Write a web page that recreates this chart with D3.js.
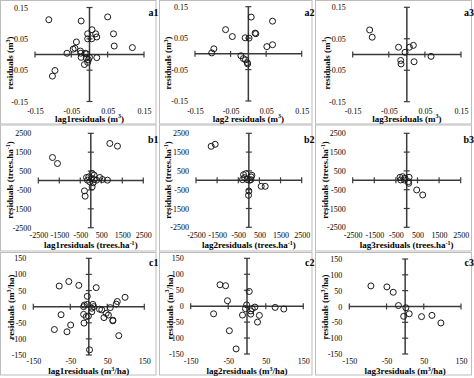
<!DOCTYPE html>
<html>
<head>
<meta charset="utf-8">
<script src="https://cdnjs.cloudflare.com/ajax/libs/d3/7.8.5/d3.min.js"></script>
<style>
  html, body { margin: 0; padding: 0; background: #fff; }
  svg { display: block; font-family: "Liberation Serif", "Times New Roman", serif; }
</style>
</head>
<body>
<svg id="chart" width="474" height="378"></svg>
<script>
// ---------------- DATA ----------------
const panelIds = ["a1", "a2", "a3", "b1", "b2", "b3", "c1", "c2", "c3"];

// row a : volume residuals (m3)
const a1X = [-0.112, -0.023, 0.050, 0.007, -0.005, 0.017, -0.005, 0.006, 0.020, 0.066, 0.068, 0.118, -0.036, -0.045, -0.040, -0.062, -0.025, -0.024, -0.012, -0.008, -0.023, -0.009, -0.003, -0.014, -0.005, 0.020, -0.095, -0.102, 0.000];
const a1Y = [0.111, 0.107, 0.120, 0.079, 0.066, 0.066, 0.050, 0.050, 0.056, 0.066, 0.027, 0.022, 0.040, 0.017, 0.020, 0.004, 0.011, 0.004, 0.004, 0.002, -0.009, -0.011, -0.017, -0.032, -0.025, -0.010, -0.051, -0.069, -0.009];
const a2X = [0.008, 0.068, -0.064, -0.045, -0.009, 0.002, 0.019, 0.021, 0.052, 0.068, -0.097, -0.103, -0.021, -0.014, -0.008, -0.003, -0.002];
const a2Y = [0.117, 0.104, 0.077, 0.055, 0.051, 0.050, 0.066, 0.064, 0.023, 0.029, 0.016, 0.003, -0.006, -0.015, -0.019, -0.028, -0.032];
const a3X = [-0.103, -0.096, -0.023, 0.007, 0.018, -0.005, 0.067, -0.017, -0.016, 0.020];
const a3Y = [0.078, 0.055, 0.023, 0.023, 0.029, 0.007, -0.006, -0.019, -0.030, -0.023];

// row b : density residuals (trees/ha)
const b1X = [-1825, -1587, 905, 1270, -302, -270, -206, -95, 63, 159, 32, -159, -48, 111, 63, 429, 556, 794, 159, 270];
const b1Y = [1219, 901, 1961, 1820, -548, -830, 159, 194, 371, 283, 106, 18, -71, -124, -336, 159, 53, 18, 53, 18];
const b2X = [-1782, -1593, 584, 773, 0, -16, -252, -142, -205, -300, 110, 142, -79, 32, 95];
const b2Y = [1809, 1915, -319, -319, -567, -798, 301, 355, 142, 35, 177, 266, 35, 0, 35];
const b3X = [-309, -185, -278, -77, 108, 77, 93, -108, 463, 741];
const b3Y = [160, 195, 18, 106, 160, -71, -160, 18, -514, -780];

// row c : volume residuals (m3/ha)
const c1X = [-80, -54, -27, 20, -4, 98, 77, 74, -75, -49, -59, -93, -14, -12, -4, 11, 8, 13, -14, -7, -1, -13, 29, 35, 47, 41, 53, 65, 65, 58, 81, 2, 8];
const c1Y = [64, 78, 66, 59, 32, 29, 16, 8, -25, -57, -78, -71, 0, 5, 7, 7, -5, 0, -24, -31, -29, -51, -8, -10, -21, -34, -26, -44, -42, -3, -90, -134, -16];
const c2X = [-72, -57, 6, -52, -89, -47, -29, -1, -4, -12, 10, 10, 21, 14, 33, 28, 75, 98];
const c2Y = [67, 64, 46, 17, -24, -77, -134, 4, -8, -28, -15, -25, -3, -8, -29, -50, -4, -9];
const c3X = [-92, -49, -32, -18, 2, -4, 11, 44, 72, 96];
const c3Y = [65, 62, 45, 3, -4, -31, -23, -32, -28, -52];

// ticks
const ticksA = [-0.15, -0.05, 0.05, 0.15];
const ticksB = [-2500, -1500, -500, 500, 1500, 2500];
const ticksCX = [-150, -50, 50, 150];
const ticksCY = [-150, -100, -50, 0, 50, 100, 150];
const domainA = [-0.15, 0.15];
const domainB = [-2500, 2500];
const domainC = [-150, 150];

// titles ("^{..}" = superscript)
const xTitles = [
  "lag1residuals (m^{3})", "lag2 residuals (m^{3})", "lag3residuals (m^{3})",
  "lag1residuals (trees.ha^{-1})", "lag2residuals (trees.ha^{-1})", "lag3residuals (trees.ha^{-1})",
  "lag1residuals (m^{3}/ha)", "lag2residuals (m^{3}/ha)", "lag3residuals (m^{3}/ha)"
];
const yTitles = ["residuals (m^{3})", "residuals (trees.ha^{-1})", "residuals (m^{3}/ha)"];

const seriesX = [a1X, a2X, a3X, b1X, b2X, b3X, c1X, c2X, c3X];
const seriesY = [a1Y, a2Y, a3Y, b1Y, b2Y, b3Y, c1Y, c2Y, c3Y];
const rowDomains = [domainA, domainB, domainC];
const rowXTicks = [ticksA, ticksB, ticksCX];
const rowYTicks = [ticksA, ticksB, ticksCY];

// ---------------- LAYOUT ----------------
const colL = [1, 160, 316];
const colR = [156.5, 312.5, 472];
const rowT = [1, 125.5, 253];
const rowB = [124.5, 251.5, 375.5];
// plot rectangles [x0, x1, y0, y1]
const plotRects = [
  [35, 144, 7.5, 101.5], [195, 301.7, 6.7, 101], [352.7, 461, 7.3, 101.7],
  [38.3, 143.3, 133.3, 227.7], [196, 301.7, 133.3, 227.3], [352.7, 460.7, 133.3, 227.3],
  [33.3, 144.3, 258.3, 355], [190.7, 303.3, 258.3, 354], [349.3, 461, 259, 354]
];
const xLabelBase = [116, 240, 366];
const xTitleBase = [121.5, 248, 374];
const yTitleCenter = [63, 180, 307];
const yTitleX = [[13, 171, 329.5], [13, 171, 328], [14, 172.5, 328]];
const labelBase = [15.7, 142.7, 265.7];

const svg = d3.select("#chart");
const axisColor = "#3a3a3a";

function addRich(sel, str, supSize) {
  const parts = str.split(/(\^\{[^}]*\})/).filter(s => s.length);
  let raised = false;
  parts.forEach(p => {
    if (p.startsWith("^{")) {
      sel.append("tspan").attr("dy", -3.5).attr("font-size", supSize).text(p.slice(2, -1));
      raised = true;
    } else {
      const t = sel.append("tspan").text(p);
      if (raised) { t.attr("dy", 3.5); raised = false; }
    }
  });
}

panelIds.forEach((id, i) => {
  const r = Math.floor(i / 3), c = i % 3;
  const [px0, px1, py0, py1] = plotRects[i];
  const g = svg.append("g");

  // panel frame
  g.append("rect")
    .attr("x", colL[c] - 0.5).attr("y", rowT[r] - 0.5)
    .attr("width", colR[c] - colL[c]).attr("height", rowB[r] - rowT[r])
    .attr("fill", "none").attr("stroke", "#bdbdbd").attr("stroke-width", 1);

  const x = d3.scaleLinear().domain(rowDomains[r]).range([px0, px1]);
  const y = d3.scaleLinear().domain(rowDomains[r]).range([py1, py0]);
  const x0 = x(0), y0 = y(0);

  // tick labels via d3 axes (placed at plot edges, no lines)
  const fmt = d => String(d);
  const xa = g.append("g").attr("transform", `translate(0,${xLabelBase[r] - 8})`)
    .call(d3.axisBottom(x).tickValues(rowXTicks[r]).tickSize(0).tickPadding(0).tickFormat(fmt));
  const ya = g.append("g").attr("transform", `translate(${px0 - 7},0)`)
    .call(d3.axisLeft(y).tickValues(rowYTicks[r]).tickSize(0).tickPadding(0).tickFormat(fmt));
  [xa, ya].forEach(a => {
    a.select(".domain").remove();
    a.selectAll("text").attr("fill", "#000").attr("font-size", 8)
      .attr("font-family", '"Liberation Serif", "Times New Roman", serif');
  });
  xa.selectAll("text").attr("dy", "0.71em");

  // cross axes
  g.append("line").attr("x1", px0).attr("x2", px1).attr("y1", y0).attr("y2", y0)
    .attr("stroke", axisColor).attr("stroke-width", 1.5);
  g.append("line").attr("x1", x0).attr("x2", x0).attr("y1", py0).attr("y2", py1)
    .attr("stroke", axisColor).attr("stroke-width", 1.5);
  g.selectAll(".xt").data(rowXTicks[r]).join("line")
    .attr("x1", d => x(d)).attr("x2", d => x(d)).attr("y1", y0 - 3).attr("y2", y0 + 3)
    .attr("stroke", axisColor).attr("stroke-width", 1.2);
  g.selectAll(".yt").data(rowYTicks[r].filter(v => v !== 0)).join("line")
    .attr("x1", x0 - 3).attr("x2", x0 + 3).attr("y1", d => y(d)).attr("y2", d => y(d))
    .attr("stroke", axisColor).attr("stroke-width", 1.2);

  // points
  const pts = seriesX[i].map((v, k) => [v, seriesY[i][k]]);
  g.selectAll("circle").data(pts).join("circle")
    .attr("cx", d => x(d[0])).attr("cy", d => y(d[1])).attr("r", 3)
    .attr("fill", "none").attr("stroke", "#1a1a1a").attr("stroke-width", 1);

  // x title
  const xt = g.append("text").attr("x", x0).attr("y", xTitleBase[r])
    .attr("text-anchor", "middle").attr("font-size", 9).attr("font-weight", "bold");
  addRich(xt, xTitles[i], 6);

  // y title
  const yt = g.append("text")
    .attr("transform", `translate(${yTitleX[r][c]},${yTitleCenter[r]}) rotate(-90)`)
    .attr("text-anchor", "middle").attr("font-size", 9).attr("font-weight", "bold");
  addRich(yt, yTitles[r], 6);

  // panel label
  g.append("text").attr("x", colR[c] + 2).attr("y", labelBase[r])
    .attr("text-anchor", "end").attr("font-size", 10).attr("font-weight", "bold").text(id);
});
</script>
</body>
</html>
